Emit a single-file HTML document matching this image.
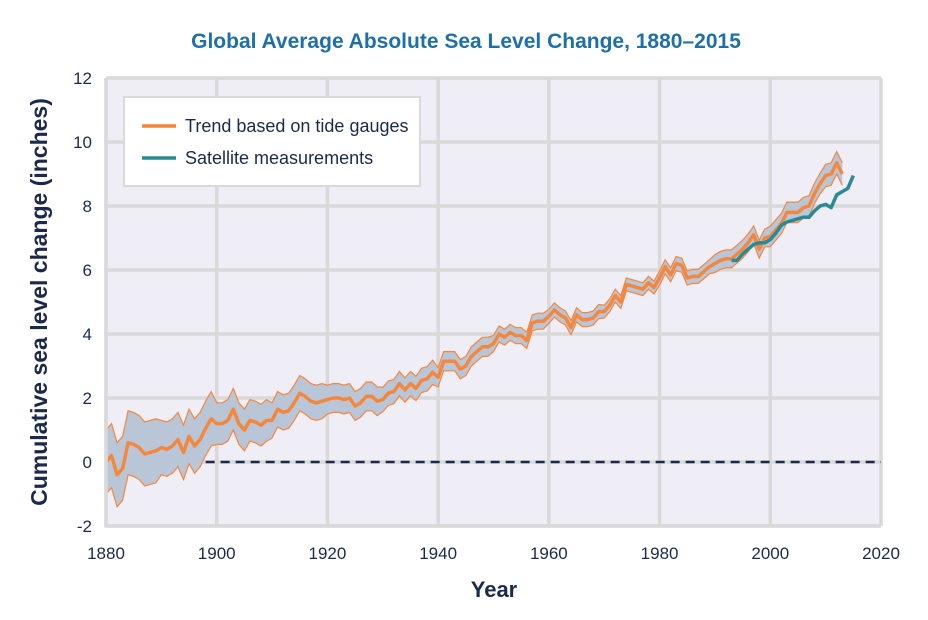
<!DOCTYPE html>
<html><head><meta charset="utf-8"><style>
body{margin:0;background:#fff;font-family:"Liberation Sans",sans-serif}
svg text{font-family:"Liberation Sans",sans-serif}
</style></head><body>
<svg id="chart" width="928" height="615" xmlns="http://www.w3.org/2000/svg">
<text x="466" y="48" text-anchor="middle" font-size="21" font-weight="bold" fill="#1f6fa8">Global Average Absolute Sea Level Change, 1880–2015</text>
<rect x="106" y="78" width="775" height="448" fill="#efedf6"/>
<g id="grid"></g>
<g id="series"></g>
<g id="axes"></g>
<text transform="translate(47,302) rotate(-90)" text-anchor="middle" font-size="23" font-weight="bold" fill="#1b2a4a">Cumulative sea level change (inches)</text>
<text x="494" y="597" text-anchor="middle" font-size="22" font-weight="bold" fill="#1b2a4a">Year</text>
<g>
<rect x="124" y="97" width="296" height="89" fill="#fff" stroke="#d9d9d9" stroke-width="2"/>
<line x1="142" y1="126" x2="176" y2="126" stroke="#f5873d" stroke-width="3.5"/>
<text x="185" y="132" font-size="18" fill="#1b2a4a">Trend based on tide gauges</text>
<line x1="142" y1="158" x2="176" y2="158" stroke="#2a8a94" stroke-width="3.5"/>
<text x="185" y="164" font-size="18" fill="#1b2a4a">Satellite measurements</text>
</g>
</svg>
<script>
const trendStartYear = 1880;
const trendValues = [0.0,0.2,-0.4,-0.2,0.6,0.55,0.45,0.25,0.3,0.35,0.45,0.4,0.5,0.7,0.3,0.8,0.5,0.7,1.05,1.35,
1.2,1.2,1.3,1.65,1.2,1.0,1.3,1.25,1.15,1.3,1.3,1.65,1.55,1.6,1.85,2.15,2.05,1.9,1.85,1.9,
1.95,2.0,2.0,1.95,2.0,1.75,1.85,2.05,2.05,1.9,1.95,2.15,2.2,2.45,2.25,2.45,2.3,2.55,2.6,2.8,
2.65,3.15,3.15,3.15,2.9,3.0,3.3,3.45,3.6,3.6,3.7,4.0,3.9,4.05,3.95,3.95,3.8,4.35,4.4,4.4,
4.55,4.75,4.6,4.5,4.2,4.6,4.45,4.45,4.5,4.7,4.7,4.9,5.2,5.0,5.55,5.5,5.45,5.4,5.6,5.45,
5.75,6.1,5.85,6.2,6.15,5.75,5.8,5.8,5.95,6.1,6.2,6.3,6.35,6.35,6.5,6.65,6.85,7.1,6.65,7.0,
7.05,7.25,7.45,7.8,7.8,7.8,7.95,8.0,8.4,8.7,8.95,9.0,9.35,9.0];
const errorByDecade = [1.0,0.85,0.65,0.55,0.45,0.38,0.3,0.25,0.22,0.2,0.22,0.28,0.32,0.35];
const satStartYear = 1993;
const satValues = [6.3,6.3,6.5,6.65,6.8,6.85,6.85,6.95,7.15,7.4,7.5,7.55,7.6,7.65,7.65,7.85,8.0,8.05,7.95,8.35,8.45,8.55,8.95];
const xTicks = [1880,1900,1920,1940,1960,1980,2000,2020];
const yTicks = [-2,0,2,4,6,8,10,12];
const zeroLineStart = 1898;

const NS="http://www.w3.org/2000/svg";
const X0=106,X1=881,Y0=526,Y1=78;
function xs(yr){return X0+(yr-1880)/(2020-1880)*(X1-X0);}
function ys(v){return Y0-(v+2)/(12+2)*(Y0-Y1);}
function mk(tag,attrs,parent){const e=document.createElementNS(NS,tag);for(const k in attrs)e.setAttribute(k,attrs[k]);parent.appendChild(e);return e;}
const grid=document.getElementById('grid'),axes=document.getElementById('axes'),ser=document.getElementById('series');
xTicks.forEach(t=>{
  const l=mk('line',{x1:xs(t),x2:xs(t),y1:Y1,y2:Y0,stroke:'#d9d9d9','stroke-width':3.5},grid);
  
  
  const tx=mk('text',{x:xs(t),y:559,'text-anchor':'middle','font-size':17,fill:'#1b2a4a'},axes);
  tx.textContent=t;
  
  
});
yTicks.forEach(t=>{
  const l=mk('line',{x1:X0,x2:X1,y1:ys(t),y2:ys(t),stroke:'#d9d9d9','stroke-width':3.5},grid);
  
  
  const tx=mk('text',{x:92,y:ys(t)+6,'text-anchor':'end','font-size':17,fill:'#1b2a4a'},axes);
  tx.textContent=t;
  
  
});
const err=i=>errorByDecade[Math.floor(i/10)];
let up=[],lo=[],mid=[];
trendValues.forEach((v,i)=>{const x=xs(trendStartYear+i);up.push(x+','+ys(v+err(i)));lo.push(x+','+ys(v-err(i)));mid.push(x+','+ys(v));});
const band=mk('polygon',{points:up.concat(lo.slice().reverse()).join(' '),fill:'#b8c6d8',stroke:'none'},ser);


const ub=mk('polyline',{points:up.join(' '),fill:'none',stroke:'#f5873d','stroke-width':1.2},ser);


const lb=mk('polyline',{points:lo.join(' '),fill:'none',stroke:'#f5873d','stroke-width':1.2},ser);


const zl=mk('line',{x1:xs(zeroLineStart),x2:X1,y1:ys(0),y2:ys(0),stroke:'#1b2a4a','stroke-width':2.5,'stroke-dasharray':'9,6'},ser);


const tl=mk('polyline',{points:mid.join(' '),fill:'none',stroke:'#f5873d','stroke-width':3.5,'stroke-linejoin':'round'},ser);


const sp=satValues.map((v,i)=>xs(satStartYear+i)+','+ys(v)).join(' ');
const sl=mk('polyline',{points:sp,fill:'none',stroke:'#2a8a94','stroke-width':3.5,'stroke-linejoin':'round'},ser);


const ax=mk('polyline',{points:`${X0},${Y1} ${X0},${Y0} ${X1},${Y0}`,fill:'none',stroke:'#d9d9d9','stroke-width':3.5},axes);


</script>
</body></html>
